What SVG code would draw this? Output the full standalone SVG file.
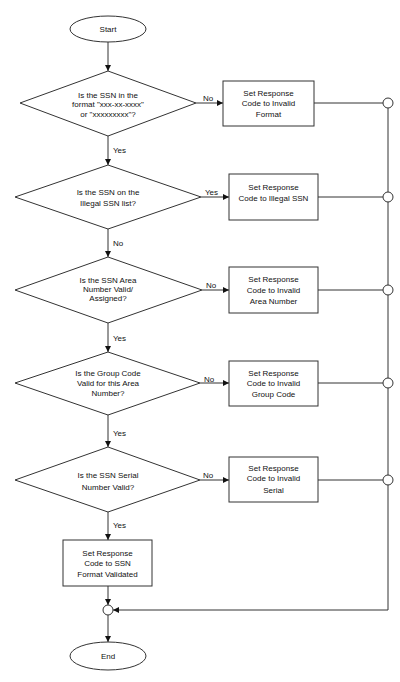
<svg xmlns="http://www.w3.org/2000/svg" width="400" height="682" viewBox="0 0 400 682">
<defs>
<marker id="ah" viewBox="0 0 6 6" refX="6" refY="3" markerWidth="6" markerHeight="6" markerUnits="userSpaceOnUse" orient="auto">
<path d="M0,0 L6,3 L0,6 Z" fill="#111"/>
</marker>
<style>
.s{fill:#fff;stroke:#333;stroke-width:1}
.c{fill:none;stroke:#333;stroke-width:1}
.a{marker-end:url(#ah)}
text{font-family:"Liberation Sans",Arial,sans-serif;font-size:8px;fill:#111;text-anchor:middle}
.l{text-anchor:start}
</style>
</defs>
<rect width="400" height="682" fill="#fff"/>
<g id="connectors">
<line class="c a" x1="108" y1="42" x2="108" y2="71"/>
<line class="c a" x1="108" y1="136" x2="108" y2="165"/>
<line class="c a" x1="108" y1="229" x2="108" y2="257"/>
<line class="c a" x1="108" y1="323" x2="108" y2="352"/>
<line class="c a" x1="108" y1="415" x2="108" y2="447"/>
<line class="c a" x1="108" y1="512" x2="108" y2="540"/>
<line class="c a" x1="108" y1="586" x2="108" y2="605"/>
<line class="c a" x1="108" y1="615" x2="108" y2="642"/>
<line class="c a" x1="196" y1="103" x2="223" y2="103"/>
<line class="c a" x1="201" y1="197" x2="229" y2="197"/>
<line class="c a" x1="202" y1="290" x2="229" y2="290"/>
<line class="c a" x1="200" y1="383" x2="229" y2="383"/>
<line class="c a" x1="200" y1="480" x2="229" y2="480"/>
<line class="c" x1="314" y1="103" x2="383" y2="103"/>
<line class="c" x1="318" y1="197" x2="383" y2="197"/>
<line class="c" x1="318" y1="290" x2="383" y2="290"/>
<line class="c" x1="318" y1="383" x2="383" y2="383"/>
<line class="c" x1="318" y1="480" x2="383" y2="480"/>
<polyline class="c a" points="388,108 388,610 113,610"/>
<circle class="s" cx="388" cy="103" r="5"/>
<circle class="s" cx="388" cy="197" r="5"/>
<circle class="s" cx="388" cy="290" r="5"/>
<circle class="s" cx="388" cy="383" r="5"/>
<circle class="s" cx="388" cy="480" r="5"/>
<text class="l" x="113" y="153">Yes</text>
<text class="l" x="203" y="101">No</text>
<text class="l" x="205" y="195">Yes</text>
<text class="l" x="113" y="246">No</text>
<text class="l" x="206" y="288">No</text>
<text class="l" x="113" y="341">Yes</text>
<text class="l" x="204" y="382">No</text>
<text class="l" x="113" y="436">Yes</text>
<text class="l" x="203" y="478">No</text>
<text class="l" x="113" y="528">Yes</text>
</g>
<g id="start">
<ellipse class="s" cx="108" cy="29" rx="38" ry="13"/>
<text x="108" y="32">Start</text>
</g>
<g id="d1">
<polygon class="s" points="108,71 196,103 108,136 20,103"/>
<text x="108" y="98">Is the SSN in the</text>
<text x="108" y="107">format "xxx-xx-xxxx"</text>
<text x="108" y="117">or "xxxxxxxxx"?</text>
</g>
<g id="b1">
<rect class="s" x="223" y="81" width="91" height="45"/>
<text x="268.5" y="96">Set Response</text>
<text x="268.5" y="106">Code to Invalid</text>
<text x="268.5" y="117">Format</text>
</g>
<g id="d2">
<polygon class="s" points="108,165 201,197 108,229 15,197"/>
<text x="108" y="195">Is the SSN on the</text>
<text x="108" y="206">Illegal SSN list?</text>
</g>
<g id="b2">
<rect class="s" x="229" y="174" width="89" height="46"/>
<text x="273.5" y="190">Set Response</text>
<text x="273.5" y="201">Code to Illegal SSN</text>
</g>
<g id="d3">
<polygon class="s" points="108,257 202,290 108,323 15,290"/>
<text x="108" y="283">Is the SSN Area</text>
<text x="108" y="292">Number Valid/</text>
<text x="108" y="301">Assigned?</text>
</g>
<g id="b3">
<rect class="s" x="229" y="267" width="89" height="46"/>
<text x="273.5" y="282">Set Response</text>
<text x="273.5" y="293">Code to Invalid</text>
<text x="273.5" y="304">Area Number</text>
</g>
<g id="d4">
<polygon class="s" points="108,352 200,383 108,415 15,383"/>
<text x="108" y="376">Is the Group Code</text>
<text x="108" y="386">Valid for this Area</text>
<text x="108" y="396">Number?</text>
</g>
<g id="b4">
<rect class="s" x="229" y="361" width="89" height="45"/>
<text x="273.5" y="376">Set Response</text>
<text x="273.5" y="386">Code to Invalid</text>
<text x="273.5" y="397">Group Code</text>
</g>
<g id="d5">
<polygon class="s" points="108,447 200,480 108,512 15,480"/>
<text x="108" y="478">Is the SSN Serial</text>
<text x="108" y="490">Number Valid?</text>
</g>
<g id="b5">
<rect class="s" x="229" y="457" width="89" height="45"/>
<text x="273.5" y="471">Set Response</text>
<text x="273.5" y="481">Code to Invalid</text>
<text x="273.5" y="493">Serial</text>
</g>
<g id="b6">
<rect class="s" x="63" y="540" width="89" height="46"/>
<text x="107.5" y="556">Set Response</text>
<text x="107.5" y="566">Code to SSN</text>
<text x="107.5" y="577">Format Validated</text>
</g>
<g id="merge">
<circle class="s" cx="108" cy="610" r="5"/>
</g>
<g id="end">
<ellipse class="s" cx="108" cy="656" rx="38" ry="14"/>
<text x="108" y="659">End</text>
</g>
</svg>
